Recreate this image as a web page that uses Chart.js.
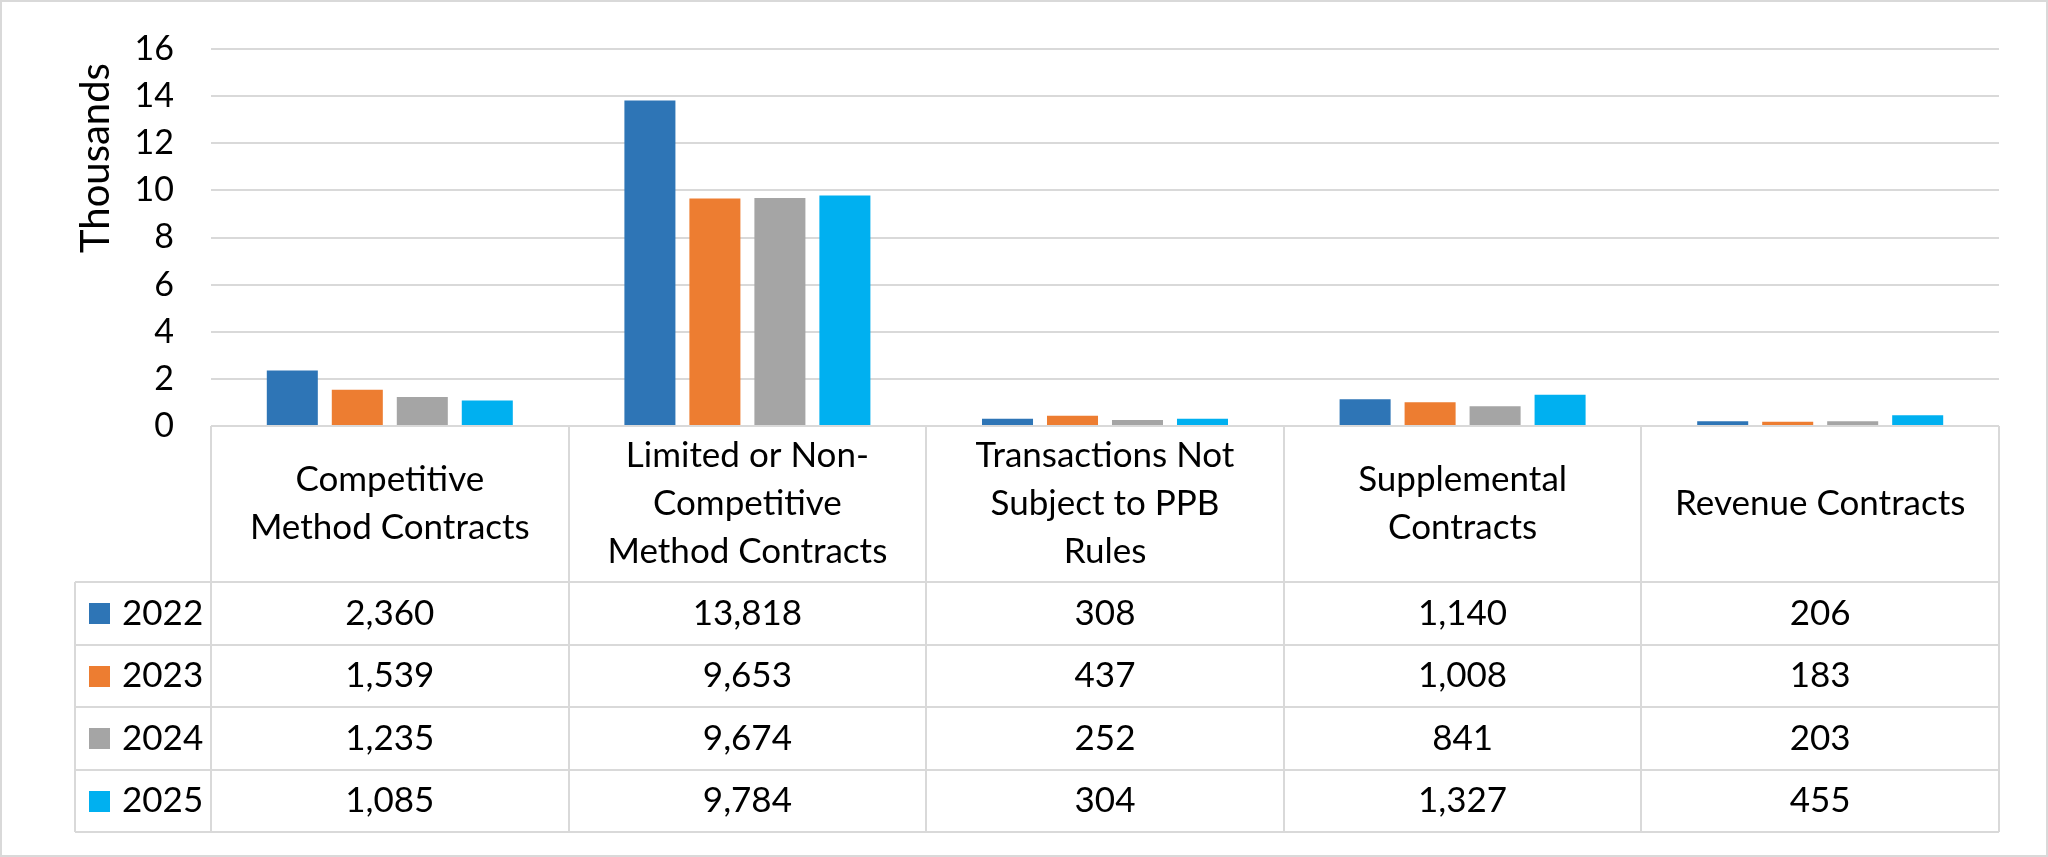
<!DOCTYPE html>
<html>
<head>
<meta charset="utf-8">
<script src="https://cdn.jsdelivr.net/npm/chart.js@4.4.1/dist/chart.umd.min.js"></script>
<style>
  body { margin: 0; background: #fff; }
  #wrap { width: 2048px; height: 857px; }
</style>
</head>
<body>
<div id="wrap"><canvas id="chart" width="2048" height="857"></canvas></div>
<script>
const categories = [
  ["Competitive", "Method Contracts"],
  ["Limited or Non-", "Competitive", "Method Contracts"],
  ["Transactions Not", "Subject to PPB", "Rules"],
  ["Supplemental", "Contracts"],
  ["Revenue Contracts"],
];

const years = ["2022", "2023", "2024", "2025"];

const values2022 = [2360, 13818, 308, 1140, 206];
const values2023 = [1539, 9653, 437, 1008, 183];
const values2024 = [1235, 9674, 252, 841, 203];
const values2025 = [1085, 9784, 304, 1327, 455];

const seriesValues = [values2022, values2023, values2024, values2025];
const colors = ["#2E75B6", "#ED7D31", "#A5A5A5", "#00B0F0"];

const yMax = 16000;
const yStep = 2000;
const axisTitle = "Thousands";

const FONT = "Lato, 'Open Sans', sans-serif";
const LINE = "#d9d9d9";

// data table under the plot, drawn with the x scale's category positions
const tablePlugin = {
  id: "dataTable",
  afterDraw(chart) {
    const ctx = chart.ctx;
    const xs = chart.scales.x;
    const area = chart.chartArea;
    const n = categories.length;
    const catW = (area.right - area.left) / n;
    const top = Math.round(area.bottom);
    const headerBottom = 582;
    const rowH = 62.5;
    const legendLeft = 75;
    const tableBottom = headerBottom + rowH * years.length;

    ctx.save();
    ctx.strokeStyle = LINE;
    ctx.lineWidth = 2;

    // horizontal lines
    ctx.beginPath();
    ctx.moveTo(area.left, top);
    ctx.lineTo(area.right, top);
    for (let r = 0; r <= years.length; r++) {
      const y = Math.round(headerBottom + r * rowH);
      ctx.moveTo(legendLeft, y);
      ctx.lineTo(area.right, y);
    }
    // vertical lines
    ctx.moveTo(legendLeft, headerBottom);
    ctx.lineTo(legendLeft, tableBottom);
    for (let i = 0; i <= n; i++) {
      const x = Math.round(area.left + i * catW);
      ctx.moveTo(x, top);
      ctx.lineTo(x, tableBottom);
    }
    ctx.stroke();

    ctx.fillStyle = "#000";
    ctx.font = "35px " + FONT;
    ctx.textAlign = "center";
    ctx.textBaseline = "middle";

    // header labels
    const headerMid = (top + headerBottom) / 2;
    categories.forEach((lines, i) => {
      const cx = xs.getPixelForValue(i);
      const y0 = headerMid - ((lines.length - 1) * 48) / 2;
      lines.forEach((t, k) => ctx.fillText(t, cx, y0 + k * 48));
    });

    // value rows
    years.forEach((yr, r) => {
      const cy = headerBottom + r * rowH + rowH / 2;
      seriesValues[r].forEach((v, i) => {
        ctx.fillText(v.toLocaleString("en-US"), xs.getPixelForValue(i), cy);
      });
      ctx.fillStyle = colors[r];
      ctx.fillRect(89, Math.round(cy - 10), 21, 21);
      ctx.fillStyle = "#000";
      ctx.textAlign = "left";
      ctx.fillText(yr, 122, cy);
      ctx.textAlign = "center";
    });

    // rotated axis title
    ctx.translate(96, 158);
    ctx.rotate(-Math.PI / 2);
    ctx.font = "40px " + FONT;
    ctx.fillText(axisTitle, 0, 0);
    ctx.restore();

    // outer frame
    ctx.save();
    ctx.strokeStyle = LINE;
    ctx.lineWidth = 2;
    ctx.strokeRect(1, 1, chart.width - 2, chart.height - 2);
    ctx.restore();
  },
};

new Chart(document.getElementById("chart"), {
  type: "bar",
  data: {
    labels: categories,
    datasets: years.map((yr, i) => ({
      label: yr,
      data: seriesValues[i],
      backgroundColor: colors[i],
      borderWidth: 0,
      categoryPercentage: 0.727,
      barPercentage: 0.785,
    })),
  },
  options: {
    responsive: false,
    animation: false,
    devicePixelRatio: 1,
    layout: { padding: { left: 0, top: 49, right: 49, bottom: 431 } },
    plugins: {
      legend: { display: false },
      tooltip: { enabled: false },
    },
    scales: {
      x: { display: false },
      y: {
        min: 0,
        max: yMax,
        afterFit: (scale) => { scale.width = 211; },
        ticks: {
          stepSize: yStep,
          padding: 0,
          color: "#000",
          font: { family: FONT, size: 34 },
          callback: (v) => v / 1000,
        },
        grid: {
          color: LINE,
          lineWidth: 2,
          drawTicks: true,
          tickLength: 37,
          tickColor: "rgba(0,0,0,0)",
        },
        border: { display: false },
      },
    },
  },
  plugins: [tablePlugin],
});
</script>
</body>
</html>
